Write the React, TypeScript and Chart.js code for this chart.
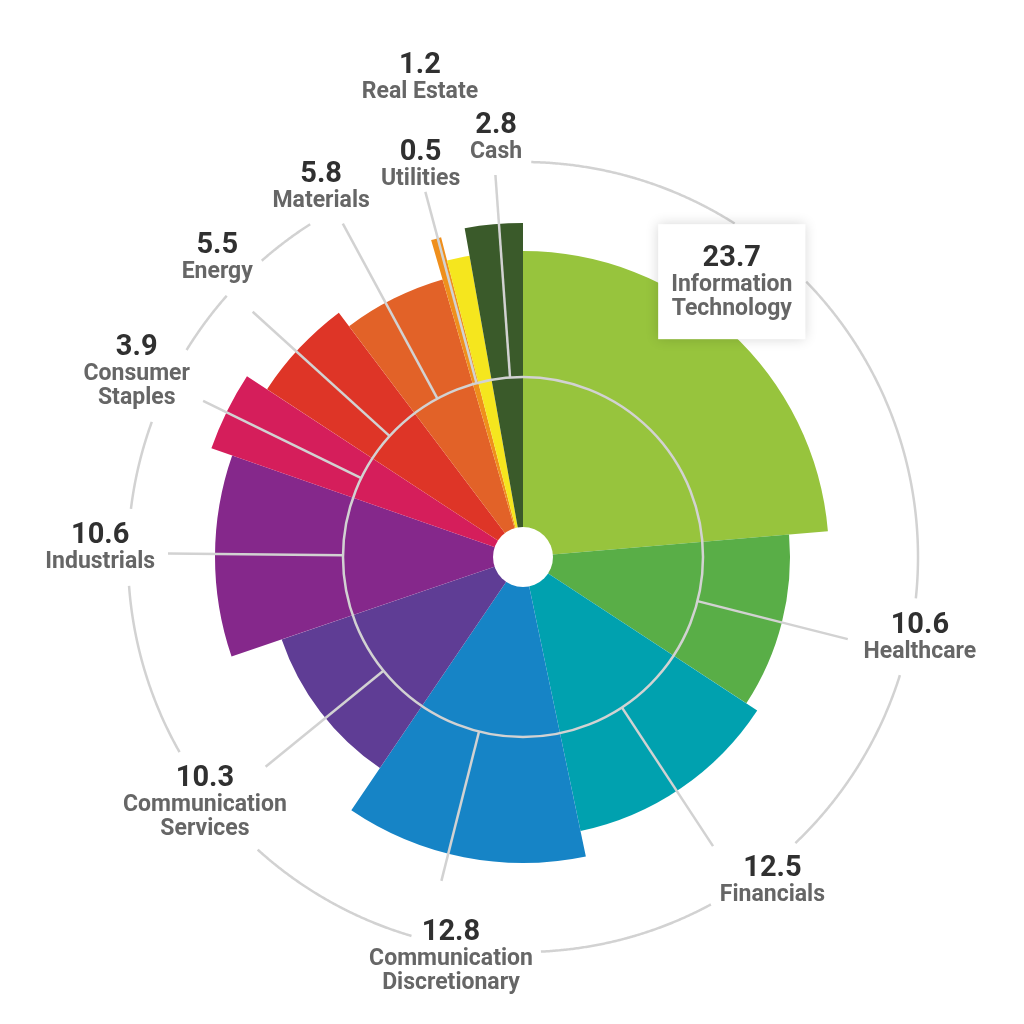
import React, { useEffect, useRef } from "react";
import { Chart, registerables } from "chart.js";

Chart.register(...registerables);

// sector names (\n = line break in the label)
const categories = [
  "Information\nTechnology",
  "Healthcare",
  "Financials",
  "Communication\nDiscretionary",
  "Communication\nServices",
  "Industrials",
  "Consumer\nStaples",
  "Energy",
  "Materials",
  "Utilities",
  "Real Estate",
  "Cash",
];
// weight in % -> angle of each slice
const weights = [23.7, 10.6, 12.5, 12.8, 10.3, 10.6, 3.9, 5.5, 5.8, 0.5, 1.2, 2.8];
// radial length of each slice (r scale units)
const radialLevels = [306, 267, 280, 306, 255, 308, 330, 306, 289, 330, 306, 334];

const sliceColors = [
  "#97c43d", "#59ae47", "#00a1af", "#1684c6", "#5f3d95", "#85288b",
  "#d51e5b", "#de3527", "#e26228", "#ef8f1c", "#f5e61e", "#3a5a2a",
];

const SIZE = 1046;
const HOLE_R = 30;
const INNER_R = 180;
const OUTER_R = 395;

// label placement: angle nudge (deg) from slice middle, distance from centre
const labelNudge = [-6.9, -3.4, -3.7, -0.5, 1.6, 1.7, 1.4, 1.7, -1.7, 0.8, 0.2, 1.4];
const labelDist = [358, 404, 405, 390, 392, 423, 436, 431, 426, 410, 495, 425];
// leader lines: angle nudge, and where they stop (null = no line)
const leaderNudge = [0, 0, 1, 3, -1.8, 0.4, -0.2, -0.9, -1.8, 0.3, 0, 0.9];
const leaderEnd: (number | null)[] = [null, 335, 346, 334, 332, 355, 356, 365, 379, 378, null, 383];
const BOXED = 0; // Information Technology label sits in a white card

const NUM_FONT = "bold 29px Roboto";
const NAME_FONT = "bold 23px Roboto";
const NUM_COLOR = "#303030";
const NAME_COLOR = "#666666";
const LINE_COLOR = "#d2d2d2";

const total = weights.reduce((a, b) => a + b, 0);

const midAngle = (i: number) => {
  let s = 0;
  for (let j = 0; j < i; j++) s += weights[j];
  return ((s + weights[i] / 2) / total) * 360;
};

const overlayPlugin = {
  id: "overlay",
  afterDatasetsDraw(chart: any) {
    const ctx: CanvasRenderingContext2D = chart.ctx;
    const scale = chart.scales.r;
    const cx = scale.xCenter;
    const cy = scale.yCenter;
    const px = (v: number) => scale.getDistanceFromCenterForValue(v);
    const pt = (deg: number, r: number) => {
      const a = (deg * Math.PI) / 180;
      return [cx + r * Math.sin(a), cy - r * Math.cos(a)];
    };

    ctx.save();

    // white hole in the middle
    ctx.fillStyle = "#ffffff";
    ctx.beginPath();
    ctx.arc(cx, cy, px(HOLE_R), 0, Math.PI * 2);
    ctx.fill();

    // inner guide circle
    ctx.strokeStyle = LINE_COLOR;
    ctx.lineWidth = 2.5;
    ctx.beginPath();
    ctx.arc(cx, cy, px(INNER_R), 0, Math.PI * 2);
    ctx.stroke();

    // leader lines
    categories.forEach((_, i) => {
      const end = leaderEnd[i];
      if (end === null) return;
      const a = midAngle(i) + leaderNudge[i];
      const [x1, y1] = pt(a, px(INNER_R));
      const [x2, y2] = pt(a, px(end));
      ctx.beginPath();
      ctx.moveTo(x1, y1);
      ctx.lineTo(x2, y2);
      ctx.stroke();
    });

    // label layout
    type Row = { text: string; font: string; color: string; y: number; w: number; top: number; bottom: number };
    const labels = categories.map((name, i) => {
      const [ax, ay] = pt(midAngle(i) + labelNudge[i], px(labelDist[i]));
      const rows: Row[] = [];
      ctx.font = NUM_FONT;
      const num = weights[i].toFixed(1);
      rows.push({ text: num, font: NUM_FONT, color: NUM_COLOR, y: ay, w: ctx.measureText(num).width, top: ay - 21, bottom: ay });
      ctx.font = NAME_FONT;
      name.split("\n").forEach((line, k) => {
        const by = ay + 25 + k * 24;
        rows.push({ text: line, font: NAME_FONT, color: NAME_COLOR, y: by, w: ctx.measureText(line).width, top: by - 17, bottom: by + 5 });
      });
      return { x: ax, y: ay, rows };
    });

    const padX = 8;
    const padY = 12;
    const rects: number[][] = [];
    labels.forEach((l, i) => {
      if (i === BOXED) {
        const maxW = Math.max(...l.rows.map((r) => r.w));
        rects.push([l.x - maxW / 2 - 13, l.y - 42, l.x + maxW / 2 + 13, l.y + 73]);
      } else {
        l.rows.forEach((r) => rects.push([l.x - r.w / 2 - padX, r.top - padY, l.x + r.w / 2 + padX, r.bottom + padY]));
      }
    });
    const hidden = (x: number, y: number) => rects.some((r) => x >= r[0] && x <= r[2] && y >= r[1] && y <= r[3]);

    // outer guide ring, broken around the labels
    ctx.strokeStyle = LINE_COLOR;
    ctx.lineWidth = 2.5;
    ctx.lineCap = "butt";
    const ro = px(OUTER_R);
    ctx.beginPath();
    let drawing = false;
    for (let d = 0; d <= 360; d += 0.2) {
      const [x, y] = pt(d, ro);
      if (hidden(x, y)) {
        drawing = false;
        continue;
      }
      if (!drawing) ctx.moveTo(x, y);
      else ctx.lineTo(x, y);
      drawing = true;
    }
    ctx.stroke();

    // card behind the boxed label
    {
      const l = labels[BOXED];
      const maxW = Math.max(...l.rows.map((r) => r.w));
      ctx.save();
      ctx.shadowColor = "rgba(0,0,0,0.16)";
      ctx.shadowBlur = 12;
      ctx.fillStyle = "#ffffff";
      ctx.fillRect(l.x - maxW / 2 - 13, l.y - 42, maxW + 26, 115);
      ctx.restore();
    }

    // label text
    ctx.textAlign = "center";
    ctx.textBaseline = "alphabetic";
    labels.forEach((l) => {
      l.rows.forEach((r) => {
        ctx.font = r.font;
        ctx.fillStyle = r.color;
        ctx.fillText(r.text, l.x, r.y);
      });
    });

    ctx.restore();
  },
};

const App: React.FC = () => {
  const canvasRef = useRef<HTMLCanvasElement | null>(null);
  const chartRef = useRef<Chart | null>(null);

  useEffect(() => {
    if (!canvasRef.current) return;
    if (chartRef.current) chartRef.current.destroy();

    chartRef.current = new Chart(canvasRef.current, {
      type: "polarArea",
      data: {
        labels: categories.map((c) => c.replace("\n", " ")),
        datasets: [
          {
            data: radialLevels,
            backgroundColor: sliceColors,
            borderWidth: 0,
            // slice angle follows the weight
            angle: (c: any) => (weights[c.dataIndex] / total) * 360,
          } as any,
        ],
      },
      options: {
        responsive: false,
        animation: false,
        layout: { padding: 0 },
        plugins: {
          legend: { display: false },
          tooltip: { enabled: false },
        },
        scales: {
          r: { display: false, min: 0, max: SIZE / 2 },
        },
      },
      plugins: [overlayPlugin],
    });

    return () => {
      if (chartRef.current) {
        chartRef.current.destroy();
        chartRef.current = null;
      }
    };
  }, []);

  return (
    <div style={{ position: "fixed", left: 0, top: 34, width: SIZE, height: SIZE }}>
      <canvas ref={canvasRef} width={SIZE} height={SIZE} style={{ display: "block" }} />
    </div>
  );
};

export default App;
